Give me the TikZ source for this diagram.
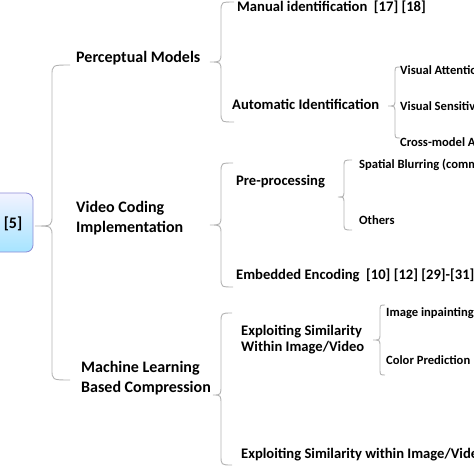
\documentclass[tikz,border=0pt]{standalone}
\usepackage{fontspec}
\setmainfont{Carlito}
\newcommand{\mybrace}[8]{%
  \coordinate (#1-tip) at (#2,#3);
  \path[brace] (#5,#6) .. controls (#4,#6) .. (#4,#6+#8) -- (#4,#3-#8)
     .. controls (#4,#3) .. (#1-tip)
     .. controls (#4,#3) .. (#4,#3+#8) -- (#4,#7-#8)
     .. controls (#4,#7) .. (#5,#7);}
\begin{document}
\begin{tikzpicture}[x=1pt,y=-1pt,
  lvA/.style={anchor=west,font=\bfseries\fontsize{16}{20}\selectfont,align=left,inner sep=0pt},
  lvB/.style={anchor=west,font=\bfseries\fontsize{14.6}{16}\selectfont,align=left,inner sep=0pt},
  lvC/.style={anchor=west,font=\bfseries\fontsize{12.6}{15}\selectfont,inner sep=0pt},
  brace/.style={draw=black!30,line width=0.9pt},
  rootbox/.style={draw=black!35!blue!45,rounded corners=7pt,top color=blue!5,bottom color=blue!30!cyan!35,line width=0.8pt}]
\useasboundingbox (0,0) rectangle (474,474);
% root
\path[rootbox] (-12,193) rectangle (33,252);
\node[font=\bfseries\fontsize{16}{20}\selectfont,inner sep=0pt] (root) at (13,224) {[5]};
% level 1
\node[lvA] (pm) at (76,58) {Perceptual Models};
\node[lvA] (vc) at (76,218) {Video Coding\\Implementation};
\node[lvA] (ml) at (81,378) {Machine Learning\\Based Compression};
% level 2
\node[lvB] (mi) at (237,7) {Manual identification\ \ [17] [18]};
\node[lvB] (ai) at (232,104) {Automatic Identification};
\node[lvB] (pp) at (236,182) {Pre-processing};
\node[lvB] (ee) at (236,275) {Embedded Encoding\ \ [10] [12] [29]-[31]};
\node[lvB] (es) at (241,340) {Exploiting Similarity\\Within Image/Video};
\node[lvB] (ew) at (241,455) {Exploiting Similarity within Image/Video};
% level 3
\node[lvC] (va) at (400,70) {Visual Attention};
\node[lvC] (vs) at (400,107) {Visual Sensitivity};
\node[lvC] (cm) at (400,142) {Cross-model Attention};
\node[lvC] (sb) at (359,165) {Spatial Blurring (common)};
\node[lvC] (ot) at (359,220) {Others};
\node[lvC] (ii) at (386,313) {Image inpainting};
\node[lvC] (cp) at (386,360) {Color Prediction};
% braces: name, tip x, tip y, vertical x, end x, top y, bottom y, radius
\mybrace{main}{35}{226}{52}{70}{65}{380}{11}
\mybrace{pmb}{210}{62}{221}{234}{2}{122}{10}
\mybrace{vcb}{210}{225}{221}{233}{163}{287}{10}
\mybrace{mlb}{213}{395}{221}{232}{313}{465}{10}
\mybrace{aib}{388}{106}{395}{400}{67}{138}{7}
\mybrace{ppb}{338}{197}{344}{352}{160}{230}{7}
\mybrace{esb}{373}{340}{380}{385}{305}{375}{7}
\end{tikzpicture}
\end{document}
